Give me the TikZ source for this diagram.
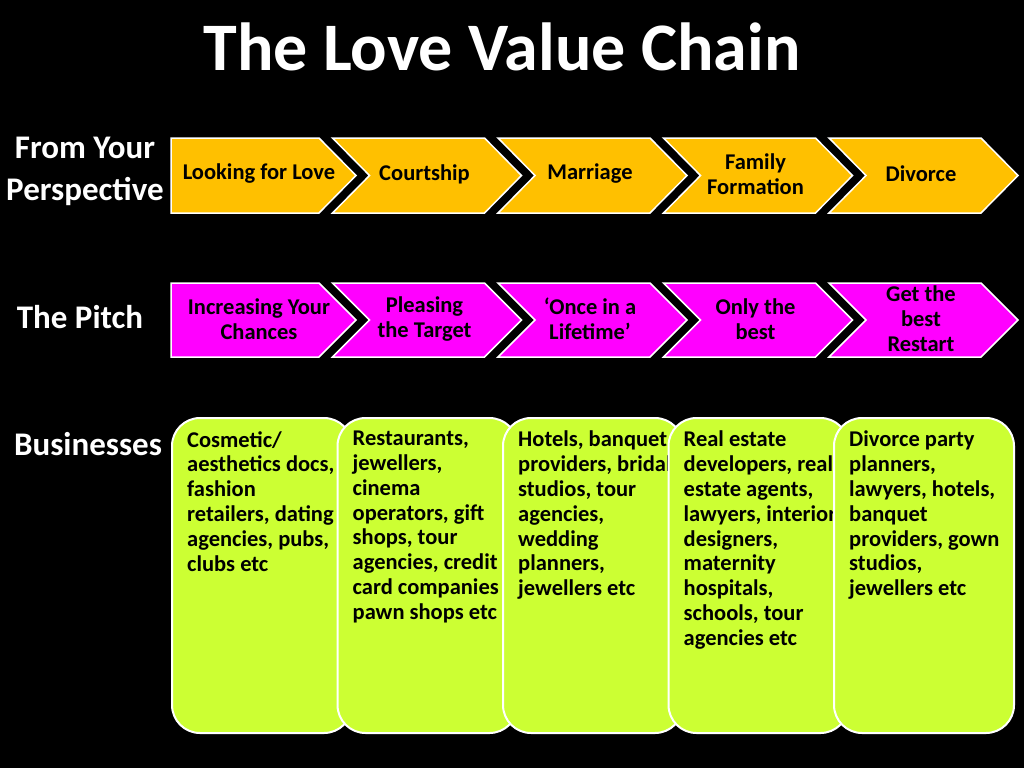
\documentclass[tikz,border=0pt]{standalone}
\usepackage{fontspec}
\setmainfont{Carlito}
\definecolor{org}{HTML}{FFC000}
\definecolor{mag}{HTML}{FF00FF}
\definecolor{lim}{HTML}{CCFF33}
\begin{document}
\begin{tikzpicture}[x=1pt,y=-1pt,
  chev/.style={draw=white,line width=1.5pt},
  ctext/.style={font=\bfseries\fontsize{22.5}{25}\selectfont,text=black,align=center},
  lbl/.style={font=\bfseries\fontsize{33}{42}\selectfont,text=white,align=center},
  bbox/.style={draw=white,line width=2pt,fill=lim,rounded corners=28pt},
  btext/.style={anchor=north west,font=\bfseries\fontsize{22.5}{24.8}\selectfont,text=black,align=left,inner sep=0pt}]
\fill[black] (0,0) rectangle (1024,768);
\useasboundingbox (0,0) rectangle (1024,768);
\node[font=\bfseries\fontsize{68}{70}\selectfont,text=white] (title) at (502,47) {The Love Value Chain};
\node[lbl] (l1) at (85,171) {From Your\\Perspective};
\node[lbl] (l2) at (80,317) {The Pitch};
\node[lbl] (l3) at (88,444) {Businesses};
% row 1
\foreach \i/\t in {0/Looking for Love,1/Courtship,2/Marriage,3/{Family\\Formation},4/Divorce}{
  \pgfmathsetmacro{\xo}{171+165.5*\i}
  \ifnum\i=0
    \draw[chev,fill=org] (\xo,138) -- (\xo+148,138) -- (\xo+185,175.5) -- (\xo+148,213) -- (\xo,213) -- cycle;
  \else
    \draw[chev,fill=org] (\xo-4,138) -- (\xo+148,138) -- (\xo+185,175.5) -- (\xo+148,213) -- (\xo-4,213) -- (\xo+33,175.5) -- cycle;
  \fi
  \node[ctext] (a\i) at (\xo+88,174) {\t};
}
% row 2
\foreach \i/\t in {0/{Increasing Your\\Chances},1/{Pleasing\\the Target},2/{‘Once in a\\Lifetime’},3/{Only the\\best},4/{Get the\\best\\Restart}}{
  \pgfmathsetmacro{\xo}{171+165.5*\i}
  \ifnum\i=0
    \draw[chev,fill=mag] (\xo,283) -- (\xo+148,283) -- (\xo+185,320) -- (\xo+148,357) -- (\xo,357) -- cycle;
  \else
    \draw[chev,fill=mag] (\xo-4,283) -- (\xo+148,283) -- (\xo+185,320) -- (\xo+148,357) -- (\xo-4,357) -- (\xo+33,320) -- cycle;
  \fi
  \node[ctext] (p\i) at (\xo+88,319) {\t};
}
% row 3
\foreach \i/\t in {0/{Cosmetic/\\aesthetics docs,\\fashion\\retailers, dating\\agencies, pubs,\\clubs etc},
  1/{Restaurants,\\jewellers,\\cinema\\operators, gift\\shops, tour\\agencies, credit\\card companies\\pawn shops etc},
  2/{Hotels, banquet\\providers, bridal\\studios, tour\\agencies,\\wedding\\planners,\\jewellers etc},
  3/{Real estate\\developers, real\\estate agents,\\lawyers, interior\\designers,\\maternity\\hospitals,\\schools, tour\\agencies etc},
  4/{Divorce party\\planners,\\lawyers, hotels,\\banquet\\providers, gown\\studios,\\jewellers etc}}{
  \pgfmathsetmacro{\xo}{172+165.5*\i}
  \draw[bbox] (\xo,418) rectangle (\xo+180,733);
  \node[btext] (b\i) at (\xo+15,431) {\t};
}
\end{tikzpicture}
\end{document}
